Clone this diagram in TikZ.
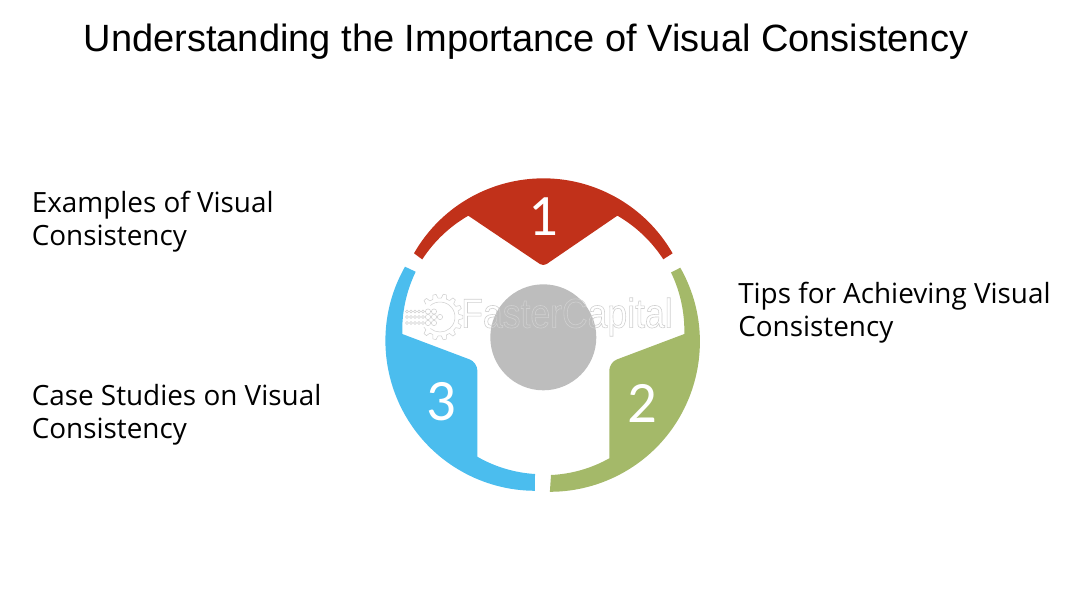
\documentclass[tikz,border=0pt]{standalone}
\usepackage{fontspec}
\setmainfont{Open Sans}
\newfontfamily\titlefont{Liberation Sans}
\newfontfamily\markfont[FakeStretch=0.86]{Liberation Sans}
\newfontfamily\numfont{Carlito}
\newlength{\du}
\setlength{\du}{0.75pt}
\definecolor{segred}{HTML}{C1311A}
\definecolor{seggreen}{HTML}{A4B969}
\definecolor{segblue}{HTML}{4BBDEE}
\definecolor{hubgray}{HTML}{BDBDBD}
\definecolor{markgray}{HTML}{D0D0D0}
\newcommand{\outlinetext}[1]{\special{pdf:code 1 Tr 0.45 w}#1\special{pdf:code 0 Tr}}
\tikzset{
  titlelabel/.style={inner sep=0pt, font=\titlefont\fontsize{28.5pt}{34pt}\selectfont},
  itemlabel/.style={anchor=west, align=left, inner sep=0pt, font=\fontsize{20.9pt}{24.75pt}\selectfont},
  numlabel/.style={inner sep=0pt, text=white, font=\numfont\fontsize{44pt}{48pt}\selectfont},
  hubdisc/.style={circle, fill=hubgray, inner sep=0pt, minimum size=106\du},
  marktext/.style={inner sep=0pt, anchor=west, text=markgray, font=\markfont\fontsize{31pt}{34pt}\selectfont},
  markline/.style={draw=markgray, line width=0.4pt},
}

\begin{document}
\begin{tikzpicture}
\pgftransformxscale{1.000000}
\pgftransformyscale{-1.000000}
\useasboundingbox (0\du,0\du) rectangle (1080\du,608\du);
% segments
\fill[segred] (414\du,253.3\du) arc[start angle=-150.2, end angle=-29.8, radius=149\du]
  -- (663.3\du,259.3\du) arc[start angle=-33, end angle=-60, radius=136\du]
  -- (617.3\du,215.7\du) [rounded corners=4\du] -- (543.3\du,266.3\du) [sharp corners] -- (468.3\du,215.7\du)
  arc[start angle=-120, end angle=-147, radius=136\du] -- cycle;
\fill[segblue] (405\du,266.7\du) arc[start angle=209.6, end angle=90.2, radius=150\du]
  -- (535\du,474\du) arc[start angle=93.5, end angle=119.9, radius=132\du]
  -- (477.3\du,456.7\du) [rounded corners=8\du] -- (477.3\du,362.3\du) [sharp corners] -- (402.3\du,334\du)
  arc[start angle=178.4, end angle=205.9, radius=134\du] -- cycle;
\fill[seggreen] (680.3\du,267.7\du) arc[start angle=-29.6, end angle=90, radius=150\du]
  -- (551\du,475\du) arc[start angle=87.3, end angle=60.7, radius=132\du]
  -- (609.3\du,458.3\du) [rounded corners=8\du] -- (609.3\du,362.3\du) [sharp corners] -- (684.3\du,334\du)
  arc[start angle=1.4, end angle=-25.8, radius=134\du] -- cycle;
\node[hubdisc] (hub) at (543.3\du,337.3\du) {};
% watermark
\foreach \rowy in {311.5,317,323} {
  \foreach \dotx in {407,411,415,419,423} {
    \draw[markline] (\dotx\du,\rowy\du) circle (1.5\du);
  }
  \foreach \dotx in {428,434} {
    \draw[markline] (\dotx\du,\rowy\du) circle (2.6\du);
  }
}
\draw[markline] (440\du,317\du) circle (2.6\du);
\begin{scope}[shift={(440\du,317\du)}]
\draw[markline] (-130:15\du) arc[start angle=-130, end angle=130, radius=15\du];
\foreach \a in {-130,-104,...,130} {
  \draw[markline] (\a-8:19\du) -- (\a-4:23\du) -- (\a+4:23\du) -- (\a+8:19\du) -- (\a+18:19\du);
}
\end{scope}
\node[marktext] (mark) at (461\du,317\du) {\outlinetext{FasterCapital}};
% texts
\node[titlelabel] (title) at (526\du,42\du) {Understanding the Importance of Visual Consistency};
\node[itemlabel] (examples) at (31.5\du,221.5\du) {Examples of Visual\\Consistency};
\node[itemlabel] (tips) at (738\du,312.5\du) {Tips for Achieving Visual\\Consistency};
\node[itemlabel] (cases) at (31.5\du,414.5\du) {Case Studies on Visual\\Consistency};
\node[numlabel] (one) at (543.5\du,217\du) {1};
\node[numlabel] (two) at (642.5\du,403\du) {2};
\node[numlabel] (three) at (441\du,402\du) {3};
\end{tikzpicture}
\end{document}
